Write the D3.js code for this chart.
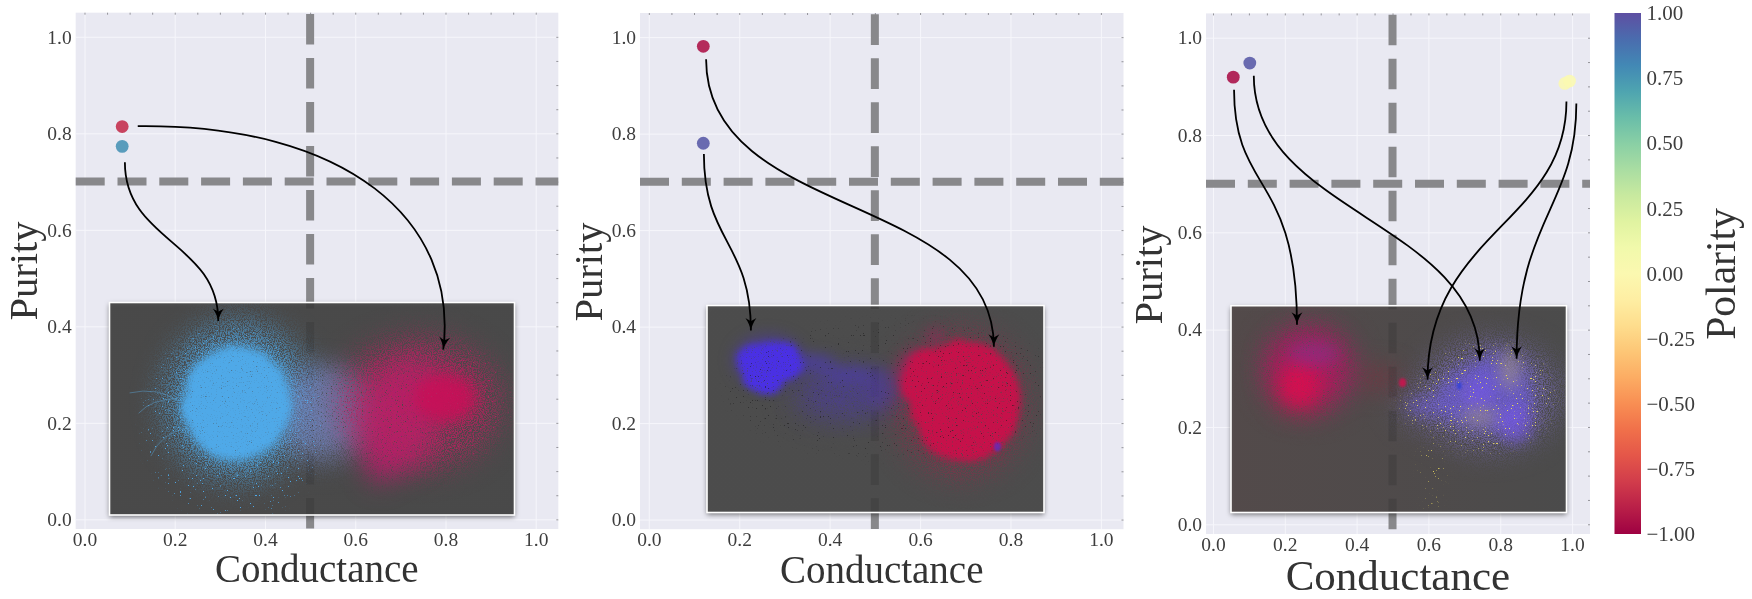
<!DOCTYPE html>
<html><head><meta charset="utf-8">
<script src="https://cdn.jsdelivr.net/npm/d3@7/dist/d3.min.js"></script>
<style>
html,body{margin:0;padding:0;background:#fff;overflow:hidden}
svg{display:block;filter:blur(.35px)}
text{font-family:"Liberation Serif","Times New Roman",serif}
</style></head><body>
<svg id="c" width="1752" height="599"></svg>
<script>
// ---------- data ----------
const tickValues = [0, 0.2, 0.4, 0.6, 0.8, 1.0];
const minorTicks = d3.range(0, 21).map(i => i * 0.05);
const polarityTicks = [1, 0.75, 0.5, 0.25, 0, -0.25, -0.5, -0.75, -1];
const purityThreshold = 0.7, conductanceThreshold = 0.5;

// community points: conductance, purity, polarity
const points1 = [[0.0835, 0.814, -0.86], [0.0835, 0.773, 0.77]];
const points2 = [[0.1205, 0.981, -0.95], [0.1205, 0.780, 0.97]];
const points3 = [[0.0564, 0.919, -0.96], [0.1025, 0.948, 0.97], [0.98, 0.906, 0.0], [0.993, 0.911, 0.01]];

// arrows: start, control 1, control 2, end (conductance, purity)
const arrows1 = [[0.0895,0.74, 0.0895,0.575, 0.2965,0.575, 0.2965,0.411],
                 [0.118,0.815, 0.58,0.82, 0.83,0.62, 0.795,0.352]];
const arrows2 = [[0.1218,0.7575, 0.1218,0.575, 0.2258,0.575, 0.2258,0.392],
                 [0.1267,0.954, 0.1267,0.62, 0.7633,0.68, 0.7633,0.358]];
const arrows3 = [[0.0586,0.893, 0.0586,0.68, 0.2339,0.72, 0.2339,0.41],
                 [0.1136,0.922, 0.1136,0.64, 0.743,0.62, 0.743,0.336],
                 [0.9844,0.869, 0.9844,0.62, 0.5975,0.60, 0.5975,0.297],
                 [1.012,0.865, 1.012,0.65, 0.8456,0.63, 0.8456,0.34]];

// inset embeddings: layer, tone, conductance, purity, spread x, spread y, weight
const cloud1 = [
 ['mist','mauve',0.53,0.225,0.10,0.09,0.75],
 ['mist','plum',0.69,0.20,0.09,0.10,0.95],
 ['mist','plum',0.72,0.26,0.09,0.07,0.95],
 ['mist','plum',0.655,0.115,0.03,0.04,0.8],
 ['grain','sky',0.34,0.245,0.165,0.165,0.75],
 ['grain','mauve',0.53,0.215,0.11,0.095,0.6],
 ['grain','rose',0.74,0.24,0.18,0.135,0.85],
 ['soft','sky',0.34,0.24,0.125,0.125,0.5],
 ['soft','crimson',0.80,0.252,0.07,0.05,0.9],
 ['core','sky',0.337,0.24,0.117,0.116,1],
 ['sparse','sky',0.33,0.20,0.20,0.20,1],
 ['sparse','rose',0.80,0.24,0.14,0.13,1]];
const strands1 = [[0.147,0.131, 0.17,0.18, 0.23,0.19],[0.10,0.262,0.16,0.275,0.21,0.245],[0.12,0.22,0.15,0.25,0.205,0.25]];
const cloud2 = [
 ['mist','indigo',0.44,0.26,0.11,0.05,0.4],
 ['grain','violet',0.42,0.26,0.11,0.05,0.4],
 ['grain','scarlet',0.69,0.24,0.145,0.15,0.5],
 ['soft','violet',0.265,0.33,0.08,0.055,0.55],
 ['soft','indigo',0.36,0.325,0.05,0.016,0.7],
 ['soft','indigo',0.44,0.30,0.06,0.015,0.6],
 ['soft','violet',0.51,0.275,0.035,0.04,0.45],
 ['soft','wine',0.59,0.30,0.04,0.05,0.8],
 ['soft','wine',0.632,0.378,0.012,0.016,0.8],
 ['core','ultra',0.265,0.325,0.072,0.045,1],
 ['core','ultra',0.255,0.30,0.05,0.04,1],
 ['core','scarlet',0.70,0.245,0.122,0.125,1],
 ['core','scarlet',0.655,0.305,0.09,0.055,1],
 ['core','scarlet',0.62,0.28,0.06,0.05,1],
 ['top','ultra',0.771,0.151,0.008,0.01,0.6],
 ['sparse','ink',0.55,0.27,0.38,0.14,0.55]];
const cloud3 = [
 ['mist','magenta',0.265,0.32,0.11,0.075,0.9],
 ['mist','crimson3',0.245,0.285,0.07,0.05,0.95],
 ['mist','dullred',0.46,0.30,0.06,0.02,0.8],
 ['grain','magenta',0.265,0.32,0.125,0.09,0.8],
 ['grain','lilac',0.77,0.265,0.19,0.11,0.75],
 ['grain','lilac',0.60,0.24,0.08,0.035,0.6],
 ['soft','purple',0.28,0.35,0.07,0.025,0.35],
 ['soft','crimson3',0.24,0.285,0.05,0.04,0.7],
 ['top','crimson3',0.528,0.291,0.010,0.009,0.8],
 ['soft','iris',0.76,0.26,0.135,0.07,0.7],
 ['soft','iris',0.80,0.31,0.08,0.05,0.5],
 ['soft','iris',0.595,0.242,0.06,0.022,0.5],
 ['soft','bright',0.84,0.208,0.05,0.04,0.7],
 ['soft','bright',0.738,0.269,0.045,0.03,0.7],
 ['soft','sand',0.826,0.317,0.028,0.04,0.5],
 ['soft','sand',0.743,0.221,0.05,0.02,0.45],
 ['top','cobalt',0.686,0.285,0.007,0.008,0.8],
 ['sparse','gold',0.76,0.26,0.19,0.11,1],
 ['sparse','gold',0.60,0.24,0.08,0.04,1],
 ['sparse','gold',0.613,0.126,0.03,0.045,1],
 ['sparse','gold',0.609,0.05,0.012,0.03,1]];

const purityLabel = 'Purity', conductanceLabel = 'Conductance', polarityLabel = 'Polarity';

// ---------- layout ----------
const panels = [
 {l:75.7,r:558.3,t:12.7,b:529,inset:[109.5,302.5,514.5,515],cond:[316.8,582,39],pur:[36.5,271,40.6],points:points1,arrows:arrows1,cloud:cloud1,strands:strands1,bg:['#474747','#474747'],seed:3},
 {l:640,r:1123.5,t:13,b:529.2,inset:[707,305.5,1044,512.5],cond:[881.7,583,39],pur:[602,272,40.6],points:points2,arrows:arrows2,cloud:cloud2,strands:[],bg:['#4a4a4a','#4a4a4a'],seed:8},
 {l:1206,r:1590,t:13.4,b:534,inset:[1231,305.7,1566.5,512.5],cond:[1397.9,590,43],pur:[1162,275,40.6],points:points3,arrows:arrows3,cloud:cloud3,strands:[],bg:['#514848','#494949'],seed:13}
];
const xDomain = [-0.0195, 1.05], yDomain = [-0.02, 1.05];
const tones = {sky:'#4fa9e8',mauve:'#6f7fb4',rose:'#b5235f',plum:'#b51d6c',crimson:'#c80f58',
 violet:'#4d3aa0',scarlet:'#c6114a',indigo:'#4c3ab8',wine:'#a81f5c',ultra:'#4a30e4',
 magenta:'#a81c60',purple:'#7a38a6',crimson3:'#d80e4e',dullred:'#803040',lilac:'#7d70c4',
 iris:'#6a5ad0',bright:'#7458e4',sand:'#a89c78',cobalt:'#3040d8',gold:'#e8d860',ink:'#1c1c1c'};
const spectral = v => d3.interpolateSpectral((v + 1) / 2);

const svg = d3.select('#c');
const defs = svg.append('defs');

function threshold(f, k, b, result){
  f.append('feColorMatrix').attr('in','n').attr('type','matrix')
   .attr('values',`0 0 0 0 0 0 0 0 0 0 0 0 0 0 0 ${k} 0 0 0 ${b}`).attr('result',result);
}
function mk(id){ return defs.append('filter').attr('id',id).attr('x','-40%').attr('y','-40%').attr('width','180%').attr('height','180%').attr('color-interpolation-filters','sRGB'); }
panels.forEach((p,i)=>{
  let f = mk('soft'+i);
  f.append('feGaussianBlur').attr('stdDeviation',7);
  f = mk('mist'+i);
  f.append('feGaussianBlur').attr('in','SourceGraphic').attr('stdDeviation',13).attr('result','b');
  f.append('feTurbulence').attr('type','fractalNoise').attr('baseFrequency',0.8).attr('numOctaves',2).attr('seed',p.seed+7).attr('result','n');
  threshold(f,5,-1.1,'m');
  f.append('feComposite').attr('in','b').attr('in2','m').attr('operator','in');
  f = mk('grain'+i);
  f.append('feGaussianBlur').attr('in','SourceGraphic').attr('stdDeviation',15).attr('result','b');
  f.append('feTurbulence').attr('type','fractalNoise').attr('baseFrequency',0.83).attr('numOctaves',3).attr('seed',p.seed).attr('result','n');
  threshold(f,5,-1.9,'m');
  f.append('feComposite').attr('in','b').attr('in2','m').attr('operator','in').attr('result','g');
  f.append('feGaussianBlur').attr('in','g').attr('stdDeviation',0.5);
  f = mk('core'+i);
  f.append('feTurbulence').attr('type','fractalNoise').attr('baseFrequency',0.045).attr('numOctaves',3).attr('seed',p.seed+1).attr('result','w');
  f.append('feDisplacementMap').attr('in','SourceGraphic').attr('in2','w').attr('scale',9).attr('xChannelSelector','R').attr('yChannelSelector','G').attr('result','d');
  f.append('feGaussianBlur').attr('in','d').attr('stdDeviation',3.5).attr('result','b');
  f.append('feTurbulence').attr('type','fractalNoise').attr('baseFrequency',0.8).attr('numOctaves',2).attr('seed',p.seed+2).attr('result','n');
  threshold(f,5,-0.9,'m');
  f.append('feComposite').attr('in','b').attr('in2','m').attr('operator','in');
  f = mk('sparse'+i);
  f.append('feGaussianBlur').attr('in','SourceGraphic').attr('stdDeviation',6).attr('result','b');
  f.append('feTurbulence').attr('type','fractalNoise').attr('baseFrequency',0.6).attr('numOctaves',2).attr('seed',p.seed+5).attr('result','n');
  threshold(f,22,-16,'m');
  f.append('feComposite').attr('in','b').attr('in2','m').attr('operator','in');
  f = mk('top'+i);
  f.append('feGaussianBlur').attr('stdDeviation',1.2);
  f = mk('shadow'+i);
  f.append('feDropShadow').attr('dx',0).attr('dy',2).attr('stdDeviation',2.6).attr('flood-color','#000').attr('flood-opacity',0.55);
  defs.append('clipPath').attr('id','clip'+i).append('rect')
    .attr('x',p.inset[0]).attr('y',p.inset[1]).attr('width',p.inset[2]-p.inset[0]).attr('height',p.inset[3]-p.inset[1]);
  const g = defs.append('linearGradient').attr('id','bg'+i);
  g.append('stop').attr('offset','0%').attr('stop-color',p.bg[0]);
  g.append('stop').attr('offset','100%').attr('stop-color',p.bg[1]);
});
defs.append('marker').attr('id','head').attr('markerUnits','userSpaceOnUse').attr('markerWidth',20).attr('markerHeight',16)
  .attr('refX',14).attr('refY',8).attr('orient','auto')
  .append('path').attr('d','M14,8 C10,7.2 6,5.6 1.5,2.5 C3.5,5.5 4,7 4.6,8 C4,9 3.5,10.5 1.5,13.5 C6,10.4 10,8.8 14,8 Z').attr('fill','#000');

const layerOrder = ['mist','grain','soft','core','top','sparse'];
const text = '#3d3d3d';

panels.forEach((p,i)=>{
  const x = d3.scaleLinear().domain(xDomain).range([p.l,p.r]);
  const y = d3.scaleLinear().domain(yDomain).range([p.b,p.t]);
  const g = svg.append('g');
  g.append('rect').attr('x',p.l).attr('y',p.t).attr('width',p.r-p.l).attr('height',p.b-p.t).attr('fill','#e9e9f2');

  const gx = g.append('g').attr('transform',`translate(0,${p.b})`)
     .call(d3.axisBottom(x).tickValues(tickValues).tickSize(-(p.b-p.t)).tickFormat(''));
  const gy = g.append('g').attr('transform',`translate(${p.l},0)`)
     .call(d3.axisLeft(y).tickValues(tickValues).tickSize(-(p.r-p.l)).tickFormat(''));
  [gx,gy].forEach(a=>{a.select('.domain').remove();a.selectAll('line').attr('stroke','#f6f6fb').attr('stroke-width',1);});

  const tt = g.append('g').attr('transform',`translate(0,${p.t})`).call(d3.axisBottom(x).tickValues(minorTicks).tickSize(2).tickFormat(''));
  const tr = g.append('g').attr('transform',`translate(${p.r},0)`).call(d3.axisLeft(y).tickValues(minorTicks).tickSize(2).tickFormat(''));
  [tt,tr].forEach(a=>{a.select('.domain').remove();a.selectAll('line').attr('stroke','#8a8a90').attr('stroke-width',0.9);});

  g.append('line').attr('x1',p.l).attr('x2',p.r).attr('y1',y(purityThreshold)).attr('y2',y(purityThreshold))
   .attr('stroke','#88888b').attr('stroke-width',8).attr('stroke-dasharray','29 12.8');
  g.append('line').attr('x1',x(conductanceThreshold)).attr('x2',x(conductanceThreshold)).attr('y1',p.t+1.3).attr('y2',p.b)
   .attr('stroke','#88888b').attr('stroke-width',8).attr('stroke-dasharray','30.6 13.4');

  const [ix0,iy0,ix1,iy1] = p.inset;
  g.append('rect').attr('x',ix0).attr('y',iy0).attr('width',ix1-ix0).attr('height',iy1-iy0)
   .attr('fill',`url(#bg${i})`).attr('fill-opacity',0.96).attr('filter',`url(#shadow${i})`);
  const ic = g.append('g').attr('clip-path',`url(#clip${i})`);
  ic.append('line').attr('x1',x(conductanceThreshold)).attr('x2',x(conductanceThreshold)).attr('y1',p.t+1.3).attr('y2',p.b)
   .attr('stroke','#3a3a3a').attr('stroke-opacity',0.35).attr('stroke-width',8).attr('stroke-dasharray','30.6 13.4');
  layerOrder.forEach(layer=>{
    const rows = p.cloud.filter(c=>c[0]===layer);
    if(!rows.length) return;
    const lg = ic.append('g').attr('filter',`url(#${layer}${i})`);
    lg.selectAll('ellipse').data(rows).join('ellipse')
      .attr('cx',d=>x(d[2])).attr('cy',d=>y(d[3]))
      .attr('rx',d=>x(d[4])-x(0)).attr('ry',d=>y(0)-y(d[5]))
      .attr('fill',d=>tones[d[1]]).attr('fill-opacity',d=>d[6]);
  });
  ic.selectAll('path.strand').data(p.strands).join('path').attr('class','strand')
    .attr('d',d=>`M${x(d[0])},${y(d[1])}Q${x(d[2])},${y(d[3])} ${x(d[4])},${y(d[5])}`)
    .attr('fill','none').attr('stroke','#5aa6da').attr('stroke-opacity',0.45).attr('stroke-width',1);
  g.append('rect').attr('x',ix0).attr('y',iy0).attr('width',ix1-ix0).attr('height',iy1-iy0)
   .attr('fill','none').attr('stroke','#fff').attr('stroke-width',1.6);

  g.selectAll('circle.pt').data(p.points).join('circle').attr('class','pt')
   .attr('cx',d=>x(d[0])).attr('cy',d=>y(d[1])).attr('r',6.4)
   .attr('fill',d=>spectral(d[2])).attr('fill-opacity',0.88);

  g.selectAll('path.arrow').data(p.arrows).join('path').attr('class','arrow')
   .attr('d',d=>`M${x(d[0])},${y(d[1])}C${x(d[2])},${y(d[3])} ${x(d[4])},${y(d[5])} ${x(d[6])},${y(d[7])}`)
   .attr('fill','none').attr('stroke','#000').attr('stroke-width',1.8).attr('marker-end','url(#head)');

  const ax = g.append('g').attr('transform',`translate(0,${p.b})`)
    .call(d3.axisBottom(x).tickValues(tickValues).tickSize(0).tickPadding(3).tickFormat(d3.format('.1f')));
  const ay = g.append('g').attr('transform',`translate(${p.l},0)`)
    .call(d3.axisLeft(y).tickValues(tickValues).tickSize(0).tickPadding(4).tickFormat(d3.format('.1f')));
  [ax,ay].forEach(a=>{a.select('.domain').remove();
    a.selectAll('text').attr('font-size',19.5).attr('fill',text).attr('font-family','"Liberation Serif",serif');});

  g.append('text').attr('x',p.cond[0]).attr('y',p.cond[1]).attr('text-anchor','middle').attr('font-size',p.cond[2]).attr('fill','#333').text(conductanceLabel);
  g.append('text').attr('transform',`translate(${p.pur[0]},${p.pur[1]}) rotate(-90)`).attr('text-anchor','middle').attr('font-size',p.pur[2]).attr('fill','#333').text(purityLabel);
});

const cbX0 = 1614.5, cbX1 = 1641, cbT = 13, cbB = 534;
const cy = d3.scaleLinear().domain([-1,1]).range([cbB,cbT]);
const grad = defs.append('linearGradient').attr('id','cb').attr('x1',0).attr('x2',0).attr('y1',1).attr('y2',0);
d3.range(0,21).forEach(k=>grad.append('stop').attr('offset',k/20).attr('stop-color',d3.interpolateSpectral(k/20)));
svg.append('rect').attr('x',cbX0).attr('y',cbT).attr('width',cbX1-cbX0).attr('height',cbB-cbT).attr('fill','url(#cb)');
const cax = svg.append('g').attr('transform',`translate(${cbX1},0)`)
  .call(d3.axisRight(cy).tickValues(polarityTicks).tickSize(0).tickPadding(5.5).tickFormat(d=>d3.format('.2f')(d).replace('-','\u2212')));
cax.select('.domain').remove();
cax.selectAll('text').attr('font-size',21).attr('fill',text).attr('font-family','"Liberation Serif",serif');
svg.append('text').attr('transform','translate(1735,274) rotate(-90)').attr('text-anchor','middle').attr('font-size',41.6).attr('fill','#333').text(polarityLabel);
</script>
</body></html>
